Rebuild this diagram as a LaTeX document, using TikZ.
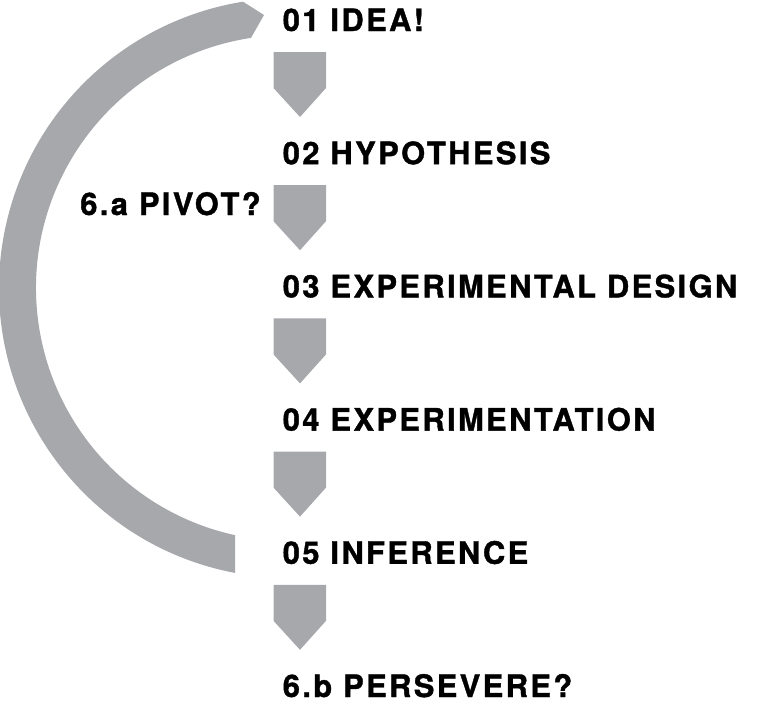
\documentclass[tikz,border=0pt]{standalone}
\usepackage{fontspec}
\usetikzlibrary{calc}
\newfontfamily\lblfont[LetterSpace=7.6,FakeBold=1.2]{TeX Gyre Heros}
\definecolor{flowgray}{RGB}{167,168,172}
\begin{document}
\begin{tikzpicture}[x=0.75pt,y=-0.75pt,
  lbl/.style={font=\lblfont\bfseries\fontsize{23.2}{27}\selectfont, inner sep=0pt, anchor=base west, text=black},
  chev/.style={fill=flowgray, draw=none},
  loopband/.style={fill=flowgray, draw=none}]
\useasboundingbox (0,0) rectangle (758,707);
% loop-back band (05 -> 01)
\coordinate (C) at (289,288);
\coordinate (looptip) at (264,15);
\fill[loopband] ($(C)+(100.73:290)$) arc[start angle=100.73, end angle=260.87, radius=290]
  -- (looptip) -- ($(C)+(261.36:253)$) arc[start angle=261.36, end angle=102.32, radius=253] -- cycle;
% step chevrons
\foreach \k in {0,...,4}{
  \pgfmathsetmacro\ty{52+133.2*\k}
  \fill[chev] (273.5,\ty) -- (326,\ty) -- (326,\ty+36) -- (300,\ty+65) -- (273.5,\ty+36) -- cycle;
}
% labels
\node[lbl] (s1) at (282.5,31) {01 IDEA!};
\node[lbl] (s2) at (282.5,164.2) {02 HYPOTHESIS};
\node[lbl] (s3) at (282.5,297.4) {03 EXPERIMENTAL DESIGN};
\node[lbl] (s4) at (282.5,430.6) {04 EXPERIMENTATION};
\node[lbl] (s5) at (282.5,563.8) {05 INFERENCE};
\node[lbl] (s6) at (282.5,697) {6.b PERSEVERE?};
\node[lbl] (piv) at (80,215) {6.a PIVOT?};
\end{tikzpicture}
\end{document}
